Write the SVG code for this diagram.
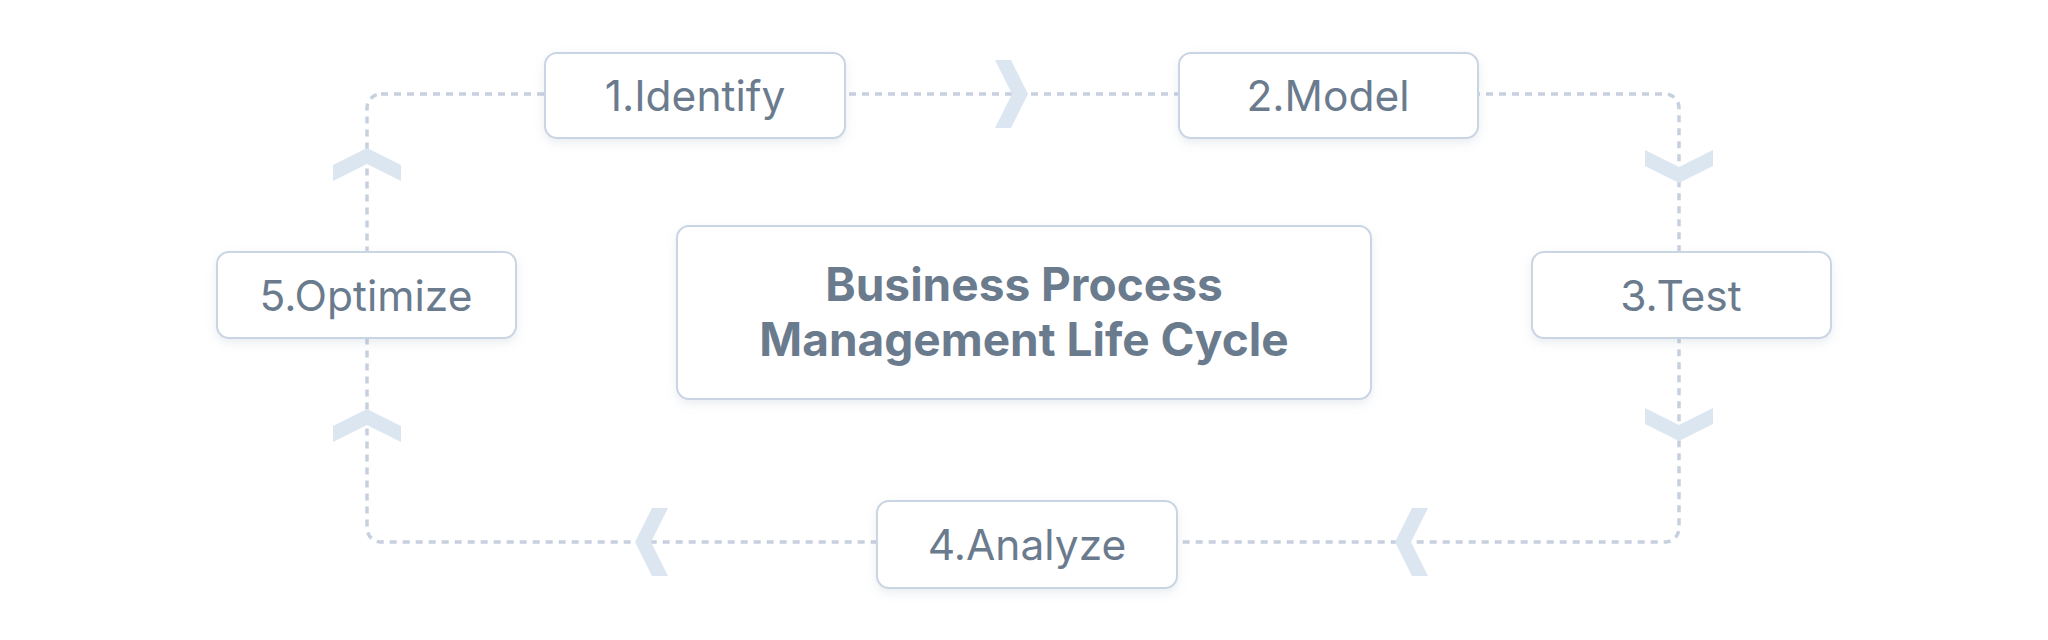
<svg xmlns="http://www.w3.org/2000/svg" width="2048" height="640" viewBox="0 0 2048 640">
<defs>
<filter id="sh" x="-10%" y="-20%" width="120%" height="150%">
<feDropShadow dx="0" dy="4" stdDeviation="5" flood-color="#8a9bb0" flood-opacity="0.18"/>
</filter>
<polygon id="chev" points="-17,-34 -1,-34 16,0 -1,34 -17,34 0,0"/>
</defs>
<style>
.box{fill:#ffffff;stroke:#c9d5e3;stroke-width:2;filter:url(#sh)}
.lbl{font-family:Inter,"Noto Sans","Liberation Sans",sans-serif;font-size:42.5px;fill:#6b7b8e;text-anchor:middle}
.ttl{font-family:Inter,"Noto Sans","Liberation Sans",sans-serif;font-size:46px;font-weight:700;fill:#6b7b8e;text-anchor:middle}
.path{fill:none;stroke:#c6d0de;stroke-width:3.5;stroke-dasharray:7 6}
.ch{fill:#dce6f1}
</style>
<rect width="2048" height="640" fill="#ffffff"/>
<g id="connectors">
<rect class="path" x="367" y="94" width="1312" height="448" rx="14"/>
<use href="#chev" class="ch" transform="translate(1012,94)"/>
<use href="#chev" class="ch" transform="translate(1679,167) rotate(90)"/>
<use href="#chev" class="ch" transform="translate(1679,425) rotate(90)"/>
<use href="#chev" class="ch" transform="translate(1411,542) rotate(180)"/>
<use href="#chev" class="ch" transform="translate(651,542) rotate(180)"/>
<use href="#chev" class="ch" transform="translate(367,425) rotate(-90)"/>
<use href="#chev" class="ch" transform="translate(367,164) rotate(-90)"/>
</g>
<g id="center">
<rect class="box" x="677" y="226" width="694" height="173" rx="12"/>
<text class="ttl" x="1024" y="301">Business Process</text>
<text class="ttl" x="1024" y="356">Management Life Cycle</text>
</g>
<g id="n1">
<rect class="box" x="545" y="53" width="300" height="85" rx="12"/>
<text class="lbl" x="695" y="111">1.Identify</text>
</g>
<g id="n2">
<rect class="box" x="1179" y="53" width="299" height="85" rx="12"/>
<text class="lbl" x="1328" y="111">2.Model</text>
</g>
<g id="n3">
<rect class="box" x="1532" y="252" width="299" height="86" rx="12"/>
<text class="lbl" x="1681" y="311">3.Test</text>
</g>
<g id="n4">
<rect class="box" x="877" y="501" width="300" height="87" rx="12"/>
<text class="lbl" x="1027" y="560">4.Analyze</text>
</g>
<g id="n5">
<rect class="box" x="217" y="252" width="299" height="86" rx="12"/>
<text class="lbl" x="366" y="311">5.Optimize</text>
</g>
</svg>
